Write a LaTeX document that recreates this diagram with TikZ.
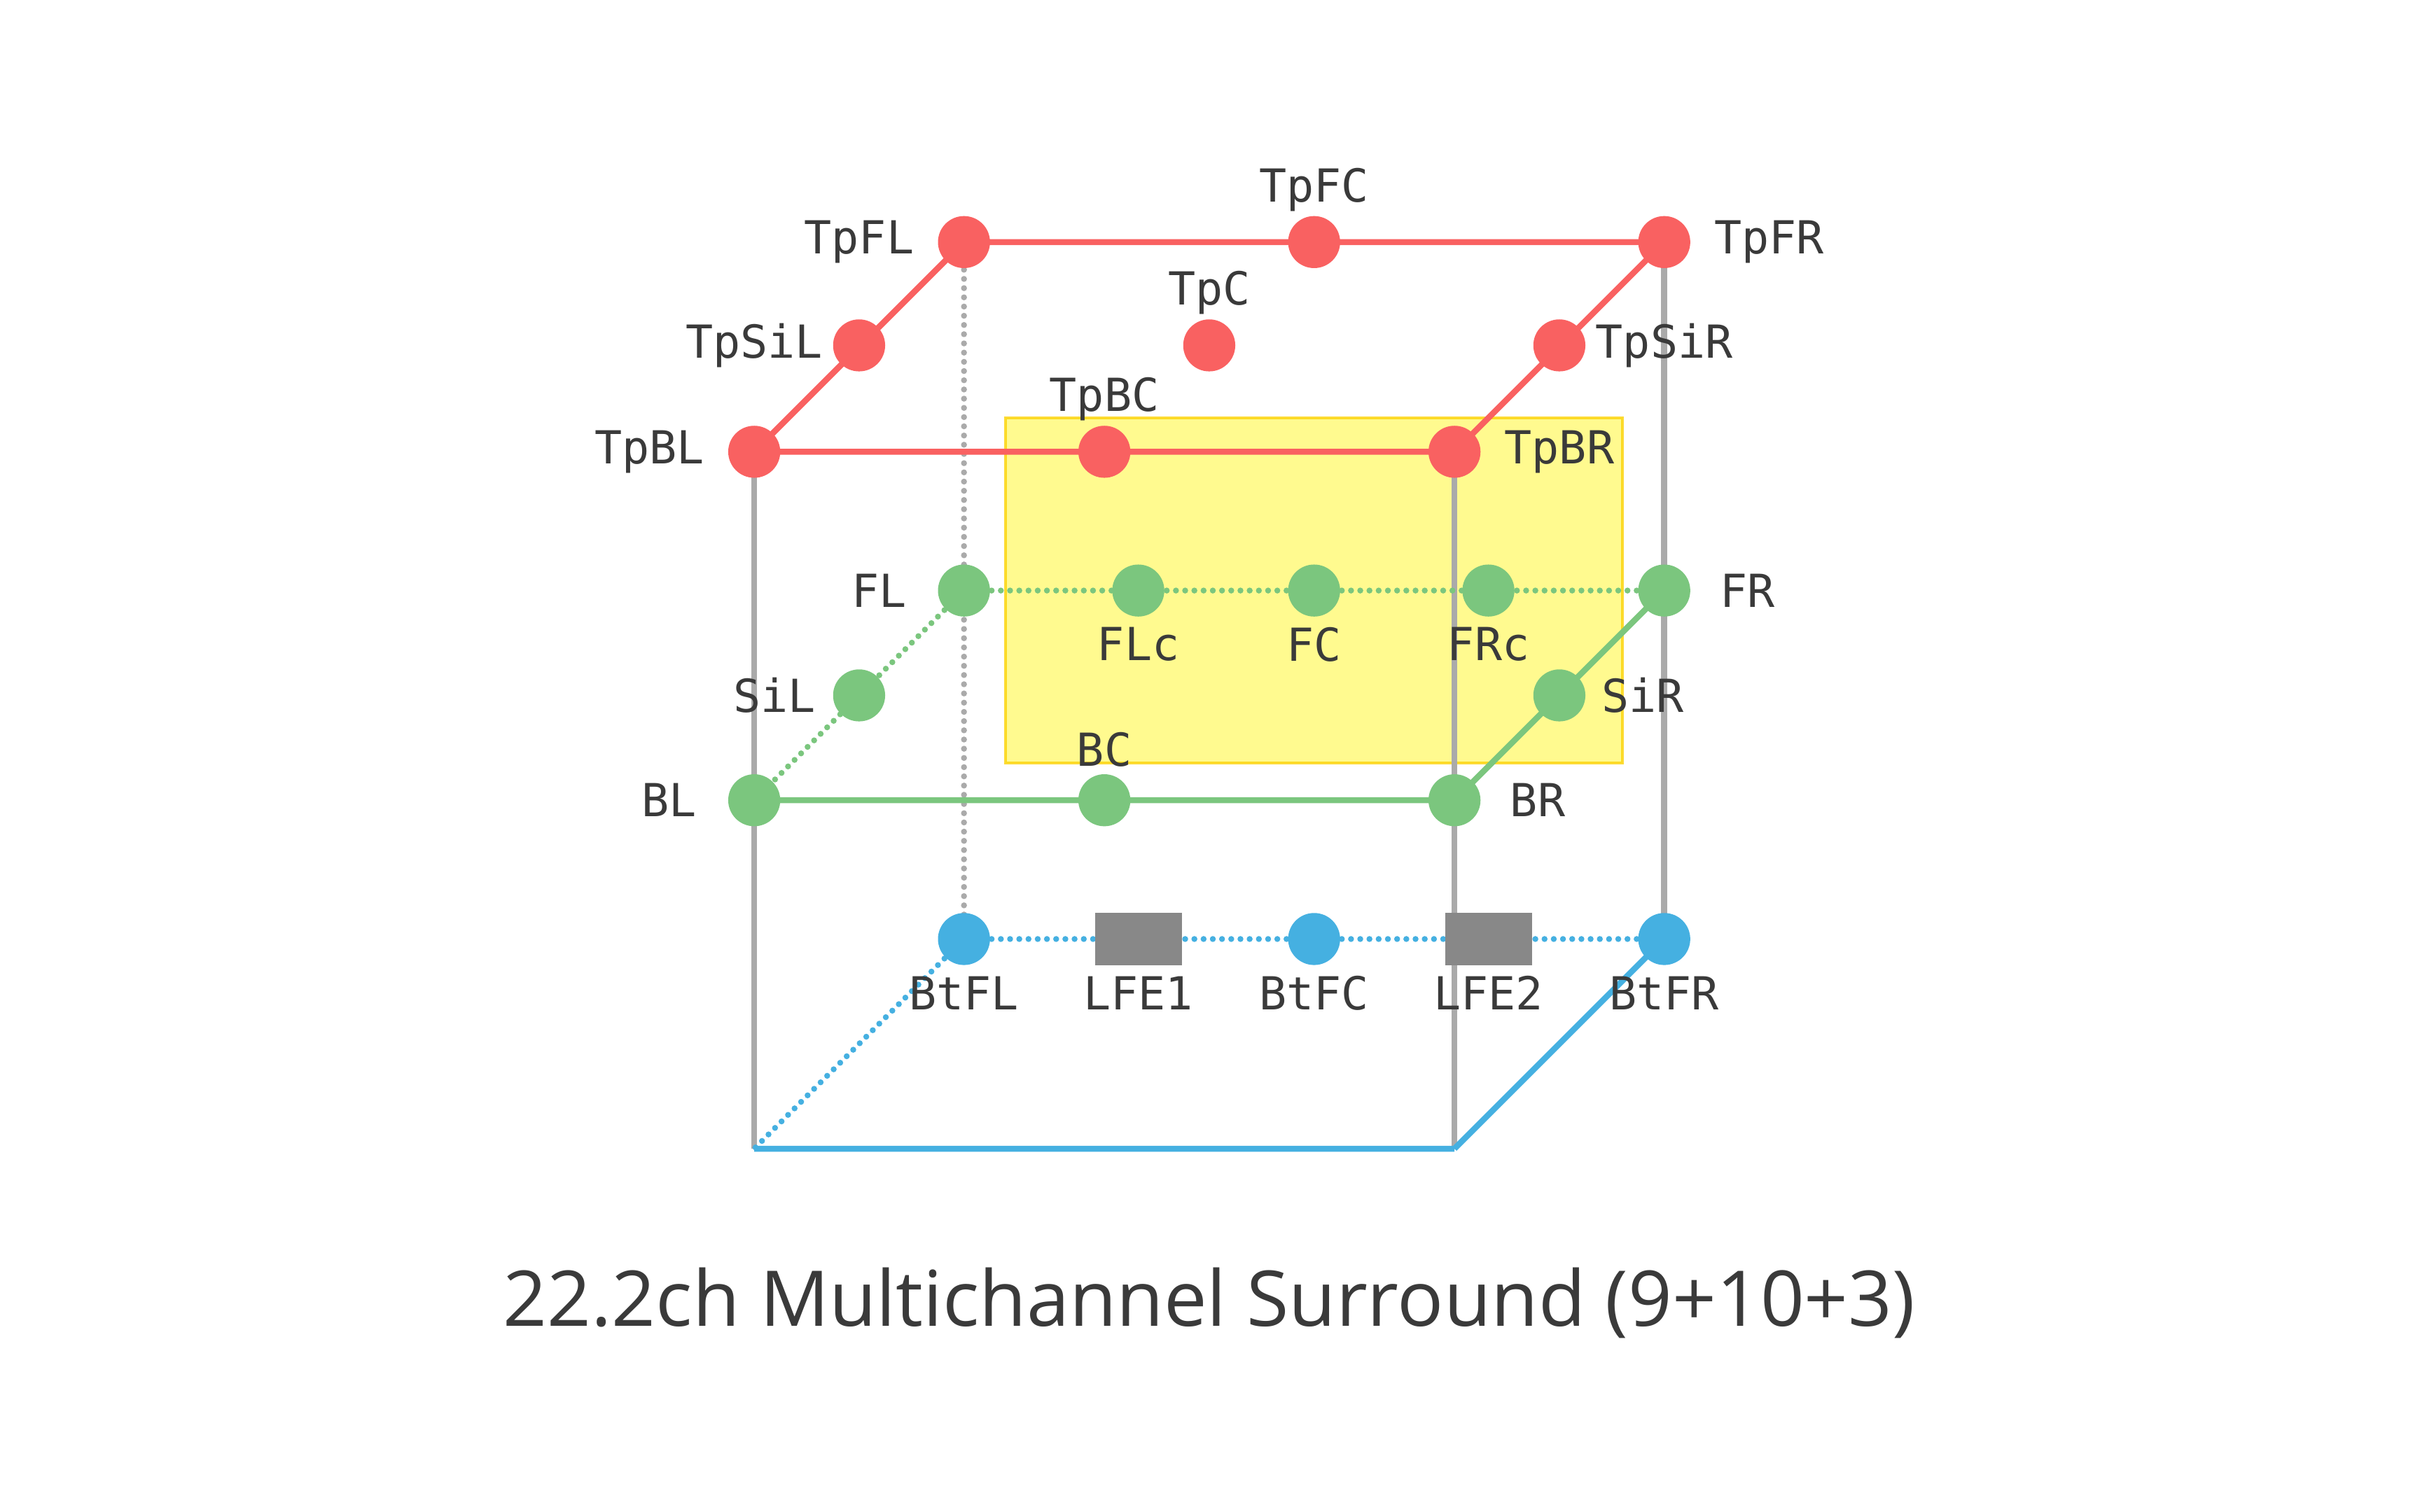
\documentclass[tikz,border=0pt]{standalone}
\usepackage{fontspec}
\newfontfamily\monof{DejaVu Sans Mono}
\newfontfamily\titf{Open Sans}
\definecolor{rd}{HTML}{F96161}
\definecolor{gn}{HTML}{7BC67E}
\definecolor{bl}{HTML}{45B0E1}
\definecolor{gr}{HTML}{AAAAAA}
\definecolor{lfe}{HTML}{888888}
\definecolor{txt}{HTML}{3A3A3A}
\begin{document}
\begin{tikzpicture}[x=0.05cm,y=-0.05cm,
 dot/.style={circle,fill=#1,minimum size=48pt,inner sep=0pt},
 lfe/.style={rectangle,fill=lfe,minimum width=80pt,minimum height=48pt,inner sep=0pt},
 lab/.style={text=txt,font=\monof\fontsize{42}{46}\selectfont,inner sep=0pt},
 sol/.style={line width=5.5pt,#1},
 dots/.style={line width=5.5pt,#1,dash pattern=on 0pt off 8.5pt,line cap=round}]
\useasboundingbox (0,0) rectangle (1569,980.6);
\fill[yellow!80!white,fill opacity=0.55,draw=yellow!70!orange,draw opacity=0.8,line width=2.5pt] (652,271) rectangle (1052,495);
\coordinate (CBL) at (489,745);
\coordinate (CBR) at (943,745);
\foreach \n/\x/\y in {TpFL/625/157,TpFC/852/157,TpFR/1079/157,TpSiL/557/224,TpC/784/224,TpSiR/1011/224,TpBL/489/293,TpBC/716/293,TpBR/943/293}
 \coordinate (\n) at (\x,\y);
\foreach \n/\x/\y in {FL/625/383,FLc/738/383,FC/852/383,FRc/965/383,FR/1079/383,SiL/557/451,SiR/1011/451,BL/489/519,BC/716/519,BR/943/519}
 \coordinate (\n) at (\x,\y);
\foreach \n/\x in {BtFL/625,LFE1/738,BtFC/852,LFE2/965,BtFR/1079}
 \coordinate (\n) at (\x,609);
\draw[sol=gr] (TpBL) -- (CBL);
\draw[sol=gr] (TpBR) -- (CBR);
\draw[sol=gr] (TpFR) -- (BtFR);
\draw[dots=gr] (TpFL) -- (BtFL);
\draw[sol=rd] (TpFL) -- (TpFR) (TpBL) -- (TpBR) (TpFL) -- (TpBL) (TpFR) -- (TpBR);
\draw[dots=gn] (FL) -- (FR) (FL) -- (BL);
\draw[sol=gn] (BL) -- (BR) (FR) -- (BR);
\draw[dots=bl] (BtFL) -- (BtFR) (BtFL) -- (CBL);
\draw[sol=bl] (CBL) -- (CBR) (BtFR) -- (CBR);
\foreach \n in {TpFL,TpFC,TpFR,TpSiL,TpC,TpSiR,TpBL,TpBC,TpBR} \node[dot=rd] (d\n) at (\n) {};
\foreach \n in {FL,FLc,FC,FRc,FR,SiL,SiR,BL,BC,BR} \node[dot=gn] (d\n) at (\n) {};
\foreach \n in {BtFL,BtFC,BtFR} \node[dot=bl] (d\n) at (\n) {};
\node[lfe] (dLFE1) at (LFE1) {};
\node[lfe] (dLFE2) at (LFE2) {};
\foreach \n/\x/\y in {TpFL/557/157,TpFC/852/123,TpFR/1147/157,TpSiL/489/224,TpC/784/190,TpSiR/1079/224,TpBL/421/293,TpBC/716/259,TpBR/1011/293,
 FL/570/383,FLc/738/418,FC/852/418,FRc/965/418,FR/1133/383,SiL/502/451,SiR/1065/451,BL/434/519,BC/716/486,BR/997/519,
 BtFL/625/644,LFE1/738/644,BtFC/852/644,LFE2/965/644,BtFR/1079/644}
 \node[lab] (l\n) at (\x,\y) {\n};
\node[text=txt,font=\titf\fontsize{71}{80}\selectfont,inner sep=0pt] (title) at (784,845) {22.2ch Multichannel Surround (9+10+3)};
\end{tikzpicture}
\end{document}
